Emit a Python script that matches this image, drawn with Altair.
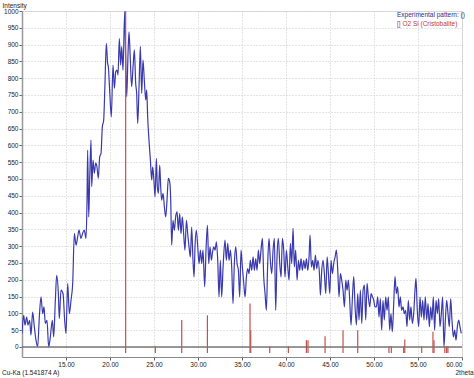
import altair as alt
import pandas as pd

# ---- data ----
two_theta = [10.0, 10.19, 10.34, 10.53, 10.68, 10.87, 11.02, 11.21, 11.40, 11.59, 11.78, 11.97, 12.16, 12.35,
             12.50, 12.65, 12.84, 13.03, 13.22, 13.45, 13.60, 13.79, 13.94, 14.13, 14.24, 14.43, 14.66, 14.85,
             15.0, 15.19, 15.38, 15.57, 15.76, 15.95, 16.14, 16.33, 16.48, 16.70, 16.89, 17.08, 17.27, 17.39,
             17.46, 17.58, 17.69, 17.84, 17.92, 18.07, 18.22, 18.37, 18.52, 18.67, 18.83, 18.98, 19.13, 19.28,
             19.43, 19.58, 19.73,
             19.81, 19.96, 20.15, 20.34, 20.5, 20.65, 20.8, 20.91, 21.06, 21.21, 21.33, 21.48, 21.67, 21.78,
             21.9, 22.05, 22.16, 22.31, 22.46, 22.62, 22.77, 22.92, 23.03, 23.15, 23.3, 23.45, 23.6, 23.75,
             23.9, 24.06, 24.17, 24.28, 24.43, 24.59, 24.74, 24.85, 25.0, 25.12, 25.27, 25.38, 25.5, 25.65,
             25.76, 25.87, 26.03, 26.18, 26.33, 26.48, 26.63, 26.78, 26.9, 27.01, 27.16, 27.31, 27.46, 27.62,
             27.77, 27.92, 28.07, 28.22, 28.37, 28.52, 28.68, 28.83, 28.98, 29.13, 29.28, 29.43, 29.55, 29.66,
             29.81,
             29.97, 30.12, 30.27, 30.42, 30.57, 30.76, 30.91, 31.07, 31.22, 31.37, 31.52, 31.63, 31.79, 31.94,
             32.09, 32.24, 32.39, 32.54, 32.69, 32.85, 33.07, 33.22, 33.38, 33.53, 33.68, 33.83, 33.98, 34.13,
             34.29, 34.44, 34.59, 34.74, 34.89, 35.04, 35.2, 35.35, 35.5, 35.65, 35.8, 35.95, 36.1, 36.26,
             36.41, 36.56, 36.71, 36.86, 37.01, 37.16, 37.32, 37.47, 37.62, 37.77, 37.92, 38.07, 38.22, 38.38,
             38.53, 38.68, 38.83, 38.98, 39.13, 39.29, 39.44, 39.59, 39.74, 39.89, 40.04,
             40.2, 40.35, 40.5, 40.65, 40.8, 40.95, 41.1, 41.26, 41.41, 41.56, 41.71, 41.86, 42.02, 42.17,
             42.32, 42.47, 42.62, 42.73, 42.89, 43.04, 43.19, 43.34, 43.49, 43.64, 43.8, 43.91, 44.06, 44.21,
             44.36, 44.52, 44.67, 44.82, 44.97, 45.12, 45.27, 45.42, 45.58, 45.73, 45.88, 46.03, 46.18, 46.33,
             46.48, 46.64, 46.79, 46.94, 47.09, 47.24, 47.39, 47.55, 47.7, 47.85, 48.0, 48.15, 48.3, 48.45,
             48.61, 48.76, 48.91, 49.06, 49.21, 49.36, 49.52, 49.67, 49.82, 49.97, 50.12,
             50.27, 50.42, 50.57, 50.72, 50.87, 51.02, 51.17, 51.33, 51.48, 51.63, 51.78, 51.93, 52.08, 52.24,
             52.39, 52.54, 52.69, 52.84, 52.99, 53.14, 53.3, 53.45, 53.6, 53.75, 53.9, 54.05, 54.2, 54.36,
             54.51, 54.66, 54.77, 54.92, 55.08, 55.23, 55.38, 55.53, 55.68, 55.83, 55.99, 56.14, 56.29, 56.44,
             56.59, 56.74, 56.89, 57.05, 57.2, 57.35, 57.5, 57.65, 57.8, 57.95, 58.11, 58.26, 58.41, 58.56,
             58.71, 58.86, 59.02, 59.17, 59.32, 59.47, 59.62, 59.77, 59.92]

intensity = [40, 94, 65, 89, 65, 79, 35, 104, 60, 20, 0, 89, 149, 99,
             119, 70, 79, 0, 30, 79, 30, 139, 213, 159, 84, 169, 159, 79,
             40, 189, 99, 139, 189, 338, 303, 328, 348, 323, 338, 348, 323, 437,
             586, 387, 497, 616, 477, 556, 517, 547, 536, 502, 566, 576, 655, 675,
             785, 904, 844,
             834, 765, 685, 839, 770, 819, 824, 810, 918, 839, 894, 824, 998, 864,
             745, 874, 938, 854, 775, 834, 884, 784, 755, 665, 775, 894, 755, 854,
             794, 735, 765, 685, 616, 556, 497, 536, 492, 447, 561, 477, 457, 541,
             477, 437, 457, 417, 387, 437, 502, 492, 437, 303, 377, 347, 387, 402,
             347, 397, 337, 387, 337, 288, 377, 337, 298, 268, 357, 258, 208, 298,
             347,
             298, 248, 288, 248, 288, 179, 288, 362, 248, 298, 258, 278, 298, 288,
             313, 258, 149, 258, 149, 238, 318, 258, 308, 258, 288, 238, 129, 248,
             298, 248, 228, 149, 288, 238, 189, 149, 208, 233, 218, 258, 228, 268,
             228, 263, 228, 288, 248, 288, 323, 208, 159, 109, 248, 323, 258, 218,
             288, 323, 109, 268, 323, 248, 208, 323, 288, 208, 288,
             238, 199, 308, 248, 353, 238, 288, 199, 258, 228, 263, 228, 258, 233,
             263, 228, 268, 333, 238, 258, 228, 273, 233, 258, 218, 154, 228, 258,
             218, 159, 268, 218, 159, 258, 218, 248, 268, 288, 228, 149, 218, 199,
             169, 119, 199, 169, 199, 139, 65, 149, 209, 119, 65, 159, 80, 169,
             70, 169, 184, 80, 189, 149, 119, 159, 149, 139, 119,
             119, 149, 89, 144, 50, 139, 80, 149, 109, 149, 50, 99, 45, 129,
             209, 159, 179, 119, 149, 109, 119, 99, 109, 60, 139, 80, 119, 70,
             99, 169, 204, 109, 60, 149, 89, 139, 80, 149, 80, 129, 60, 119,
             80, 149, 50, 139, 99, 144, 60, 99, 149, 0, 80, 139, 99, 60,
             144, 80, 30, 50, 20, 60, 80, 60, 40]

stick_pos = [21.78, 25.15, 28.15, 31.07, 35.91, 35.99, 38.15, 40.27, 42.32, 42.5, 44.44, 46.48, 48.15,
             51.7, 51.97, 53.37, 53.5, 55.42, 56.7, 56.82, 58.05, 58.25, 58.4]
stick_int = [1000, 2, 80, 94, 129, 50, 2, 2, 20, 20, 32, 50, 50,
             2, 2, 2, 22, 2, 45, 20, 2, 2, 2]

x_ticks = [15, 20, 25, 30, 35, 40, 45, 50, 55, 60]
y_ticks = list(range(0, 1001, 50))
legend_labels = ["Experimental pattern: ()", "[] O2 Si (Cristobalite)"]
legend_colors = ["#2b2b8c", "#c03a3a"]
x_title = "2theta"
y_title = "Intensity"
radiation = "Cu-Ka (1.541874 A)"

FONT = "Liberation Sans"
FS = 6.5

pattern = pd.DataFrame({"t": two_theta, "i": intensity})
sticks = pd.DataFrame({"t": stick_pos, "i": stick_int})
zero_df = pd.DataFrame({"i": [0]})

xs = alt.Scale(domain=[10, 60], nice=False, zero=False)
ys = alt.Scale(domain=[-30, 1000], nice=False, zero=False)

xaxis = alt.Axis(values=x_ticks, format=".2f", grid=True, gridDash=[1, 2], gridColor="#c8c8c8",
                 tickSize=3, tickColor="#666", domainColor="#888", domainWidth=1.2,
                 labelFontSize=FS, labelFont=FONT, labelColor="#222", labelPadding=1,
                 title=x_title, titleFont=FONT, titleFontSize=FS, titleFontWeight="normal",
                 titleColor="#222", titleX=433, titleY=15, titleAlign="left", titleBaseline="middle")
yaxis = alt.Axis(values=y_ticks, format="d", grid=True, gridDash=[1, 2], gridColor="#c8c8c8",
                 tickSize=3, tickColor="#666", domainColor="#999", domainWidth=1.5,
                 labelFontSize=FS, labelFont=FONT, labelColor="#222", labelPadding=1,
                 title=y_title, titleFont=FONT, titleFontSize=FS, titleFontWeight="normal",
                 titleColor="#222", titleAngle=0, titleX=-20, titleY=-6, titleAlign="left",
                 titleBaseline="middle")

line = alt.Chart(pattern).mark_line(color="#3a3aae", strokeWidth=1.2, clip=True,
                                    interpolate="monotone").encode(
    x=alt.X("t:Q", scale=xs, axis=xaxis),
    y=alt.Y("i:Q", scale=ys, axis=yaxis),
)

stick_layer = alt.Chart(sticks).mark_rule(color="#c4504c", strokeWidth=1.2).encode(
    x=alt.X("t:Q", scale=xs, axis=xaxis),
    y=alt.Y("i:Q", scale=ys, axis=yaxis),
    y2=alt.datum(-18),
)

zero = alt.Chart(zero_df).mark_rule(color="#777", strokeWidth=1.5).encode(
    y=alt.Y("i:Q", scale=ys, axis=yaxis)
)

leg1 = alt.Chart(pd.DataFrame({"label": [legend_labels[0]]})).mark_text(
    align="left", baseline="middle", font=FONT, fontSize=FS, color=legend_colors[0]
).encode(x=alt.value(375), y=alt.value(4), text="label:N")

leg2 = alt.Chart(pd.DataFrame({"label": [legend_labels[1]]})).mark_text(
    align="left", baseline="middle", font=FONT, fontSize=FS, color=legend_colors[1]
).encode(x=alt.value(375), y=alt.value(13), text="label:N")

rad = alt.Chart(pd.DataFrame({"label": [radiation]})).mark_text(
    align="left", baseline="middle", font=FONT, fontSize=FS, color="#222"
).encode(x=alt.value(-20), y=alt.value(362), text="label:N")

chart = alt.layer(line, stick_layer, zero, leg1, leg2, rad).properties(
    width=440, height=346,
    autosize=alt.AutoSizeParams(type="none"),
    padding={"left": 22, "top": 11, "right": 12, "bottom": 21},
).configure_view(stroke="#999", strokeWidth=1.5).configure(background="white")

chart.save("out.html", embed_options={"renderer": "svg", "actions": False})
